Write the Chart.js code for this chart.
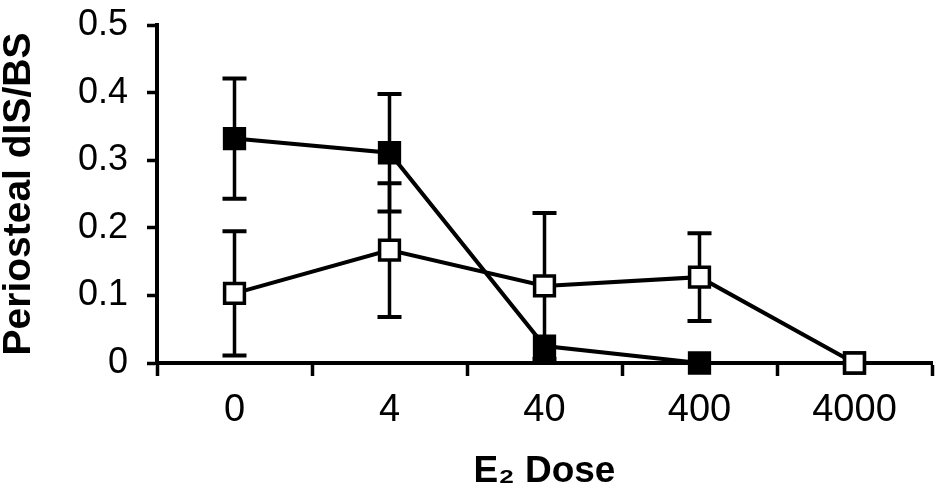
<!DOCTYPE html>
<html>
<head>
<meta charset="utf-8">
<script src="https://cdn.jsdelivr.net/npm/chart.js@4/dist/chart.umd.min.js"></script>
<style>
  html, body { margin: 0; padding: 0; background: #fff; }
  #wrap { width: 938px; height: 500px; position: relative; }
</style>
</head>
<body>
<div id="wrap"><canvas id="c"></canvas></div>
<script>
// ---- data ----
const doses = ["0", "4", "40", "400", "4000"];
const filledValues = [0.332, 0.311, 0.025, 0, 0];
const filledErrors = [0.089, 0.087, 0, 0, 0];
const openValues = [0.103, 0.167, 0.114, 0.127, 0];
const openErrors = [0.092, 0.099, 0.108, 0.065, 0];
const yTicks = [0, 0.1, 0.2, 0.3, 0.4, 0.5];
const yTitle = "Periosteal dIS/BS";
const xTitle = "E\u2082 Dose";

const errorsByDataset = [openErrors, filledErrors];

const errorBarPlugin = {
  id: 'errorBars',
  beforeDatasetsDraw(chart) {
    const ctx = chart.ctx;
    const yScale = chart.scales.y;
    ctx.save();
    ctx.strokeStyle = '#000';
    ctx.lineCap = 'butt';
    chart.data.datasets.forEach((ds, i) => {
      const meta = chart.getDatasetMeta(i);
      const errs = errorsByDataset[i];
      meta.data.forEach((pt, j) => {
        const e = errs[j];
        if (!e) return;
        const v = ds.data[j];
        const x = pt.x;
        const yT = yScale.getPixelForValue(v + e);
        const yB = yScale.getPixelForValue(Math.max(0, v - e));
        ctx.lineWidth = 3.5;
        ctx.beginPath();
        ctx.moveTo(x, yT);
        ctx.lineTo(x, yB);
        ctx.stroke();
        ctx.lineWidth = 4;
        ctx.beginPath();
        ctx.moveTo(x - 12, yT);
        ctx.lineTo(x + 12, yT);
        ctx.moveTo(x - 12, yB);
        ctx.lineTo(x + 12, yB);
        ctx.stroke();
      });
    });
    ctx.restore();
  }
};

const FONT = "'Liberation Sans', Arial, Helvetica, sans-serif";

function lineDataset(label, values, fill) {
  return {
    label: label,
    data: values,
    borderColor: '#000',
    borderWidth: 4,
    backgroundColor: fill,
    pointStyle: 'rect',
    pointRadius: 14,
    pointHoverRadius: 14,
    pointBorderWidth: 3.5,
    pointBackgroundColor: fill,
    pointBorderColor: '#000',
    tension: 0,
    clip: false
  };
}

new Chart(document.getElementById('c'), {
  type: 'line',
  data: {
    labels: doses,
    datasets: [
      lineDataset('open', openValues, '#fff'),
      lineDataset('filled', filledValues, '#000')
    ]
  },
  options: {
    responsive: true,
    maintainAspectRatio: false,
    animation: false,
    events: [],
    layout: { autoPadding: false, padding: { left: 0, top: 25, right: 6, bottom: 0 } },
    plugins: {
      legend: { display: false },
      tooltip: { enabled: false }
    },
    scales: {
      x: {
        type: 'category',
        offset: true,
        grid: {
          display: true,
          offset: true,
          drawOnChartArea: false,
          drawTicks: true,
          tickLength: 13,
          tickWidth: 3.5,
          tickColor: '#000',
          color: '#000'
        },
        border: { display: true, color: '#000', width: 4 },
        ticks: {
          color: '#000',
          font: { family: FONT, size: 38 },
          padding: 12,
          maxRotation: 0,
          autoSkip: false
        },
        title: {
          display: true,
          text: xTitle,
          color: '#000',
          font: { family: FONT, size: 37, weight: 'bold', lineHeight: 1 },
          padding: { top: 0, bottom: 10 }
        },
        afterFit(scale) {
          scale.height = 137;
          scale.paddingLeft = 0;
          scale.paddingRight = 0;
        }
      },
      y: {
        min: 0,
        max: 0.5,
        afterBuildTicks(scale) { scale.ticks = yTicks.map(v => ({ value: v })); },
        grid: {
          display: true,
          drawOnChartArea: false,
          drawTicks: true,
          tickLength: 10,
          tickWidth: 3.5,
          tickColor: '#000',
          color: '#000'
        },
        border: { display: true, color: '#000', width: 4 },
        ticks: {
          color: '#000',
          font: { family: FONT, size: 36 },
          padding: 19,
          callback: (v) => String(Math.round(v * 10) / 10)
        },
        title: {
          display: true,
          text: yTitle,
          color: '#000',
          font: { family: FONT, size: 39, weight: 'bold', lineHeight: 1 },
          padding: { top: 0, bottom: 0 }
        },
        afterFit(scale) {
          scale.width = 157;
          scale.paddingTop = 0;
          scale.paddingBottom = 0;
        }
      }
    }
  },
  plugins: [errorBarPlugin]
});
</script>
</body>
</html>
